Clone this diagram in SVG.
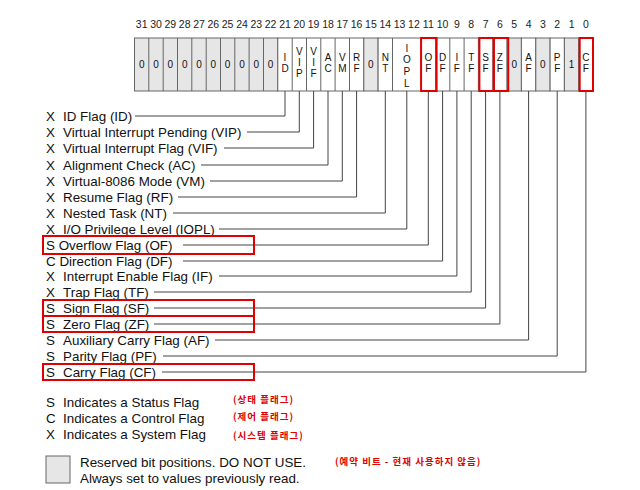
<svg xmlns="http://www.w3.org/2000/svg" width="640" height="490" viewBox="0 0 640 490">
<style>
text{font-family:"Liberation Sans",Arial,sans-serif;fill:#111}
.n{font-size:10.5px;text-anchor:middle;fill:#222}
.c{font-size:10px;text-anchor:middle}
.l{font-size:13.4px}
.k{font-family:"Noto Sans CJK KR",sans-serif;font-size:9.5px;fill:#e00000;font-weight:bold;letter-spacing:1px}
.res{fill:#e6e6e6;stroke:#666;stroke-width:1}
.fl{fill:#fff;stroke:#666;stroke-width:1}
.hl{fill:none;stroke:#e00000;stroke-width:2}
.cn{fill:none;stroke:#444;stroke-width:1}
</style>
<rect width="640" height="490" fill="#fff"/>
<g id="bitnums">
<text class="n" x="141.7" y="28">31</text><text class="n" x="156" y="28">30</text><text class="n" x="170.3" y="28">29</text><text class="n" x="184.7" y="28">28</text><text class="n" x="199" y="28">27</text><text class="n" x="213.3" y="28">26</text><text class="n" x="227.6" y="28">25</text><text class="n" x="242" y="28">24</text><text class="n" x="256.3" y="28">23</text><text class="n" x="270.6" y="28">22</text><text class="n" x="285" y="28">21</text><text class="n" x="299.3" y="28">20</text><text class="n" x="313.6" y="28">19</text><text class="n" x="328" y="28">18</text><text class="n" x="342.3" y="28">17</text><text class="n" x="356.6" y="28">16</text><text class="n" x="370.9" y="28">15</text><text class="n" x="385.3" y="28">14</text><text class="n" x="399.6" y="28">13</text><text class="n" x="413.9" y="28">12</text><text class="n" x="428.3" y="28">11</text><text class="n" x="442.6" y="28">10</text><text class="n" x="456.9" y="28">9</text><text class="n" x="471.2" y="28">8</text><text class="n" x="485.6" y="28">7</text><text class="n" x="499.9" y="28">6</text><text class="n" x="514.2" y="28">5</text><text class="n" x="528.6" y="28">4</text><text class="n" x="542.9" y="28">3</text><text class="n" x="557.2" y="28">2</text><text class="n" x="571.6" y="28">1</text><text class="n" x="585.9" y="28">0</text>
</g>
<g id="register">
<rect class="res" x="134.5" y="38" width="143.3" height="53"/>
<g stroke="#666"><line x1="148.8" y1="38" x2="148.8" y2="91"/><line x1="163.2" y1="38" x2="163.2" y2="91"/><line x1="177.5" y1="38" x2="177.5" y2="91"/><line x1="191.8" y1="38" x2="191.8" y2="91"/><line x1="206.2" y1="38" x2="206.2" y2="91"/><line x1="220.5" y1="38" x2="220.5" y2="91"/><line x1="234.8" y1="38" x2="234.8" y2="91"/><line x1="249.1" y1="38" x2="249.1" y2="91"/><line x1="263.5" y1="38" x2="263.5" y2="91"/></g>
<g class="c"><text x="141.7" y="68">0</text><text x="156" y="68">0</text><text x="170.3" y="68">0</text><text x="184.7" y="68">0</text><text x="199" y="68">0</text><text x="213.3" y="68">0</text><text x="227.6" y="68">0</text><text x="242" y="68">0</text><text x="256.3" y="68">0</text><text x="270.6" y="68">0</text></g>
<rect class="fl" x="277.8" y="38" width="86.0" height="53"/>
<g stroke="#666"><line x1="292.2" y1="38" x2="292.2" y2="91"/><line x1="306.5" y1="38" x2="306.5" y2="91"/><line x1="320.8" y1="38" x2="320.8" y2="91"/><line x1="335.1" y1="38" x2="335.1" y2="91"/><line x1="349.5" y1="38" x2="349.5" y2="91"/></g>
<rect class="res" x="363.8" y="38" width="14.3" height="53"/>
<rect class="fl" x="378.1" y="38" width="129.0" height="53"/>
<g stroke="#666"><line x1="392.5" y1="38" x2="392.5" y2="91"/><line x1="421.1" y1="38" x2="421.1" y2="91"/><line x1="435.5" y1="38" x2="435.5" y2="91"/><line x1="449.8" y1="38" x2="449.8" y2="91"/><line x1="464.1" y1="38" x2="464.1" y2="91"/><line x1="478.4" y1="38" x2="478.4" y2="91"/><line x1="492.8" y1="38" x2="492.8" y2="91"/></g>
<rect class="res" x="507.1" y="38" width="14.3" height="53"/>
<rect class="fl" x="521.4" y="38" width="14.3" height="53"/>
<rect class="res" x="535.8" y="38" width="14.3" height="53"/>
<rect class="fl" x="550.1" y="38" width="14.3" height="53"/>
<rect class="res" x="564.4" y="38" width="14.3" height="53"/>
<rect class="fl" x="578.7" y="38" width="14.3" height="53"/>
<g class="c">
<text x="285" y="61">I</text><text x="285" y="72">D</text>
<text x="299.3" y="55">V</text><text x="299.3" y="66">I</text><text x="299.3" y="77">P</text>
<text x="313.6" y="55">V</text><text x="313.6" y="66">I</text><text x="313.6" y="77">F</text>
<text x="328" y="61">A</text><text x="328" y="72">C</text>
<text x="342.3" y="61">V</text><text x="342.3" y="72">M</text>
<text x="356.6" y="61">R</text><text x="356.6" y="72">F</text>
<text x="370.9" y="68">0</text>
<text x="385.3" y="61">N</text><text x="385.3" y="72">T</text>
<text x="406.8" y="52">I</text><text x="406.8" y="63">O</text><text x="406.8" y="75">P</text><text x="406.8" y="87">L</text>
<text x="428.3" y="61">O</text><text x="428.3" y="72">F</text>
<text x="442.6" y="61">D</text><text x="442.6" y="72">F</text>
<text x="456.9" y="61">I</text><text x="456.9" y="72">F</text>
<text x="471.2" y="61">T</text><text x="471.2" y="72">F</text>
<text x="485.6" y="61">S</text><text x="485.6" y="72">F</text>
<text x="499.9" y="61">Z</text><text x="499.9" y="72">F</text>
<text x="514.2" y="68">0</text>
<text x="528.6" y="61">A</text><text x="528.6" y="72">F</text>
<text x="542.9" y="68">0</text>
<text x="557.2" y="61">P</text><text x="557.2" y="72">F</text>
<text x="571.6" y="68">1</text>
<text x="585.9" y="61">C</text><text x="585.9" y="72">F</text>
</g>
<rect class="hl" x="421.1" y="38" width="15.5" height="53"/>
<rect class="hl" x="479.4" y="38" width="14.4" height="53"/>
<rect class="hl" x="493.8" y="38" width="14.4" height="53"/>
<rect class="hl" x="579.7" y="38" width="13.3" height="53"/>
</g>
<g id="connectors" class="cn">
<polyline points="285,91 285,116 135,116"/>
<polyline points="299.3,91 299.3,132 247,132"/>
<polyline points="313.6,91 313.6,148 224,148"/>
<polyline points="328,91 328,165 201,165"/>
<polyline points="342.3,91 342.3,181 210,181"/>
<polyline points="356.6,91 356.6,197 178,197"/>
<polyline points="385.3,91 385.3,213 173,213"/>
<polyline points="406.8,91 406.8,229 219,229"/>
<polyline points="428.3,91 428.3,245 183,245"/>
<polyline points="442.6,91 442.6,261 183,261"/>
<polyline points="456.9,91 456.9,276 219,276"/>
<polyline points="471.2,91 471.2,292 154,292"/>
<polyline points="485.6,91 485.6,308 154,308"/>
<polyline points="499.9,91 499.9,324 154,324"/>
<polyline points="528.6,91 528.6,340 215,340"/>
<polyline points="557.2,91 557.2,356 163,356"/>
<polyline points="585.9,91 585.9,372 162,372"/>
</g>
<g id="labels" class="l">
<text x="46" y="121">X</text><text x="63" y="121">ID Flag (ID)</text>
<text x="46" y="137">X</text><text x="63" y="137">Virtual Interrupt Pending (VIP)</text>
<text x="46" y="153">X</text><text x="63" y="153">Virtual Interrupt Flag (VIF)</text>
<text x="46" y="170">X</text><text x="63" y="170">Alignment Check (AC)</text>
<text x="46" y="186">X</text><text x="63" y="186">Virtual-8086 Mode (VM)</text>
<text x="46" y="202">X</text><text x="63" y="202">Resume Flag (RF)</text>
<text x="46" y="218">X</text><text x="63" y="218">Nested Task (NT)</text>
<text x="46" y="234">X</text><text x="63" y="234">I/O Privilege Level (IOPL)</text>
<text x="46" y="250">S Overflow Flag (OF)</text>
<text x="46" y="266">C Direction Flag (DF)</text>
<text x="46" y="281">X</text><text x="63" y="281">Interrupt Enable Flag (IF)</text>
<text x="46" y="297">X</text><text x="63" y="297">Trap Flag (TF)</text>
<text x="46" y="313">S</text><text x="63" y="313">Sign Flag (SF)</text>
<text x="46" y="329">S</text><text x="63" y="329">Zero Flag (ZF)</text>
<text x="46" y="345">S</text><text x="63" y="345">Auxiliary Carry Flag (AF)</text>
<text x="46" y="361">S</text><text x="63" y="361">Parity Flag (PF)</text>
<text x="46" y="377">S</text><text x="63" y="377">Carry Flag (CF)</text>
</g>
<g id="highlights" class="hl">
<rect x="43" y="236" width="211" height="18"/>
<rect x="43" y="300" width="211" height="16"/>
<rect x="43" y="316" width="211" height="16"/>
<rect x="43" y="364" width="211" height="16"/>
</g>
<g id="legend">
<text class="l" x="46" y="407">S</text><text class="l" x="63" y="407">Indicates a Status Flag</text>
<text class="l" x="46" y="423">C</text><text class="l" x="63" y="423">Indicates a Control Flag</text>
<text class="l" x="46" y="439">X</text><text class="l" x="63" y="439">Indicates a System Flag</text>
<text class="k" x="233" y="403">(상태 플래그)</text>
<text class="k" x="233" y="420">(제어 플래그)</text>
<text class="k" x="233" y="439">(시스템 플래그)</text>
<rect class="res" x="46" y="456" width="24" height="27"/>
<text class="l" x="80" y="467">Reserved bit positions. DO NOT USE.</text>
<text class="l" x="80" y="483">Always set to values previously read.</text>
<text class="k" x="335" y="465">(예약 비트 - 현재 사용하지 않음)</text>
</g>
</svg>
